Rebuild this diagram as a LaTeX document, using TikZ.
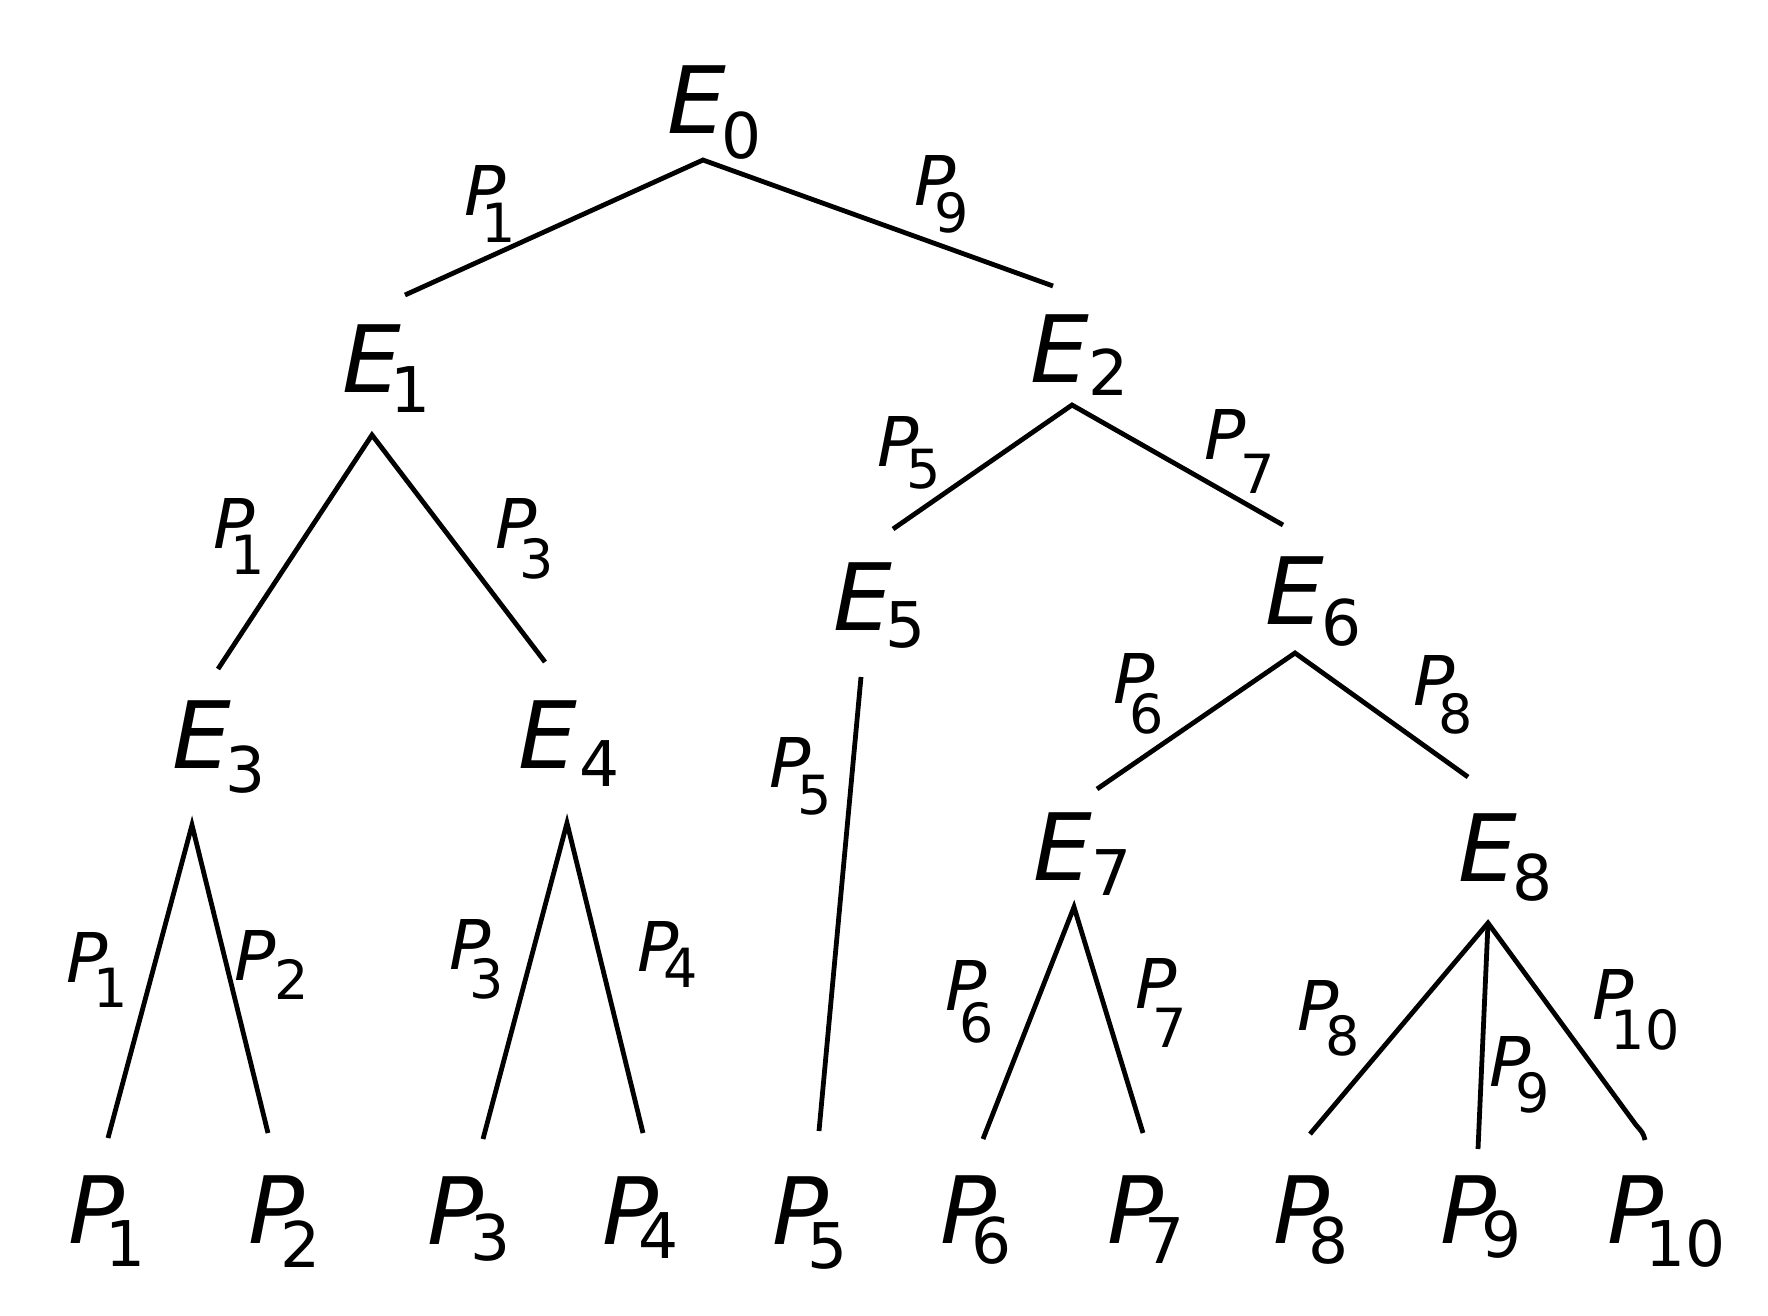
\documentclass[tikz,border=0pt]{standalone}
\usepackage{fontspec}
\setmainfont{DejaVu Sans}
\newcommand\Blab[4]{\rlap{\kern#3pt\raisebox{-#4pt}{\fontsize{63pt}{63pt}\selectfont #2}}{\fontsize{93pt}{93pt}\selectfont\itshape #1}}
\newcommand\Slab[4]{\rlap{\kern#3pt\raisebox{-#4pt}{\fontsize{54pt}{54pt}\selectfont #2}}{\fontsize{68.6pt}{68.6pt}\selectfont\itshape #1}}
\tikzset{
  edge/.style={line width=4.8pt, line cap=butt, line join=miter},
  lab/.style={anchor=base west, inner sep=0pt, outer sep=0pt}
}
\begin{document}
\begin{tikzpicture}[x=1pt,y=-1pt]
\fill[white] (0,0) rectangle (1768,1315);
\useasboundingbox (0,0) rectangle (1768,1315);
% main nodes
\node[lab] (E0) at (667.3,133) {\Blab{E}{0}{54.5}{25}};
\node[lab] (E1) at (342.3,392) {\Blab{E}{1}{47.8}{20}};
\node[lab] (E2) at (1030.3,382) {\Blab{E}{2}{58.1}{13}};
\node[lab] (E5) at (833.3,630) {\Blab{E}{5}{51.8}{17}};
\node[lab] (E6) at (1265.3,624) {\Blab{E}{6}{56.3}{21}};
\node[lab] (E3) at (172.3,768) {\Blab{E}{3}{52.9}{24}};
\node[lab] (E4) at (518.3,768) {\Blab{E}{4}{61.6}{18}};
\node[lab] (E7) at (1033.3,880) {\Blab{E}{7}{58.5}{15}};
\node[lab] (E8) at (1458.3,881) {\Blab{E}{8}{54.4}{19}};
\node[lab] (P1) at (68.3,1243) {\Blab{P}{1}{36.8}{23}};
\node[lab] (P2) at (248.3,1243) {\Blab{P}{2}{32.1}{24}};
\node[lab] (P3) at (427.3,1244) {\Blab{P}{3}{42.9}{16}};
\node[lab] (P4) at (602.3,1244) {\Blab{P}{4}{36.6}{14}};
\node[lab] (P5) at (772.3,1244) {\Blab{P}{5}{34.8}{24}};
\node[lab] (P6) at (940.3,1243) {\Blab{P}{6}{31.3}{20}};
\node[lab] (P7) at (1107.3,1243) {\Blab{P}{7}{37.5}{20}};
\node[lab] (P8) at (1273.3,1243) {\Blab{P}{8}{35.4}{20}};
\node[lab] (P9) at (1440.3,1243) {\Blab{P}{9}{41.6}{14}};
\node[lab] (P10) at (1607.3,1243) {\Blab{P}{10}{37.8}{23}};
% edge labels
\node[lab] (L01) at (464.6,215) {\Slab{P}{1}{17.3}{27}};
\node[lab] (L02) at (914.6,205) {\Slab{P}{9}{19.8}{27}};
\node[lab] (L13) at (213.6,548) {\Slab{P}{1}{17.3}{26}};
\node[lab] (L14) at (495.6,548) {\Slab{P}{3}{24.2}{30}};
\node[lab] (L25) at (877.6,466) {\Slab{P}{5}{29.2}{22}};
\node[lab] (L26) at (1204.6,459) {\Slab{P}{7}{35.9}{34}};
\node[lab] (L55) at (769.6,787) {\Slab{P}{5}{28.2}{27}};
\node[lab] (L67) at (1113.6,703) {\Slab{P}{6}{15.5}{30}};
\node[lab] (L68) at (1413.6,705) {\Slab{P}{8}{24.7}{28}};
\node[lab] (L31) at (66.6,982) {\Slab{P}{1}{27.3}{25}};
\node[lab] (L32) at (234.6,980) {\Slab{P}{2}{39.4}{19}};
\node[lab] (L43) at (449.6,969) {\Slab{P}{3}{20.2}{29}};
\node[lab] (L44) at (637.6,971) {\Slab{P}{4}{25.7}{16}};
\node[lab] (L76) at (945.6,1010) {\Slab{P}{6}{13.5}{32}};
\node[lab] (L77) at (1135.6,1008) {\Slab{P}{7}{16.9}{39}};
\node[lab] (L88) at (1297.6,1030) {\Slab{P}{8}{27.7}{25}};
\node[lab] (L89) at (1489.6,1086) {\Slab{P}{9}{25.8}{26}};
\node[lab] (L810) at (1592.6,1019) {\Slab{P}{10}{18.3}{30}};
% connector points
\coordinate (v0) at (703,160);
\coordinate (t1) at (405,295);
\coordinate (t2) at (1053,286);
\coordinate (v1) at (372,435);
\coordinate (t3) at (218,669);
\coordinate (t4) at (545,662);
\coordinate (v2) at (1072,405);
\coordinate (t5) at (893,529);
\coordinate (t6) at (1283,525);
\coordinate (v5) at (861,677);
\coordinate (b5) at (819,1131);
\coordinate (v6) at (1295,653);
\coordinate (t7) at (1097,789);
\coordinate (t8) at (1468,777);
\coordinate (v3) at (192,825);
\coordinate (b1) at (108,1138);
\coordinate (b2) at (268,1133);
\coordinate (v4) at (567,823);
\coordinate (b3) at (483,1139);
\coordinate (b4) at (643,1133);
\coordinate (v7) at (1074,907);
\coordinate (b6) at (983,1139);
\coordinate (b7) at (1143,1133);
\coordinate (v8) at (1488,923);
\coordinate (b8) at (1310,1134);
\coordinate (b9) at (1478,1149);
\coordinate (k10) at (1636,1125);
\coordinate (b10) at (1645,1140);
% connectors
\draw[edge] (t1) -- (v0) -- (t2);
\draw[edge] (t3) -- (v1) -- (t4);
\draw[edge] (t5) -- (v2) -- (t6);
\draw[edge] (v5) -- (b5);
\draw[edge] (t7) -- (v6) -- (t8);
\draw[edge] (b1) -- (v3) -- (b2);
\draw[edge] (b3) -- (v4) -- (b4);
\draw[edge] (b6) -- (v7) -- (b7);
\draw[edge] (b8) -- (v8) -- (k10) .. controls (1643,1133) .. (b10);
\draw[edge] (v8) -- (b9);
\end{tikzpicture}
\end{document}
